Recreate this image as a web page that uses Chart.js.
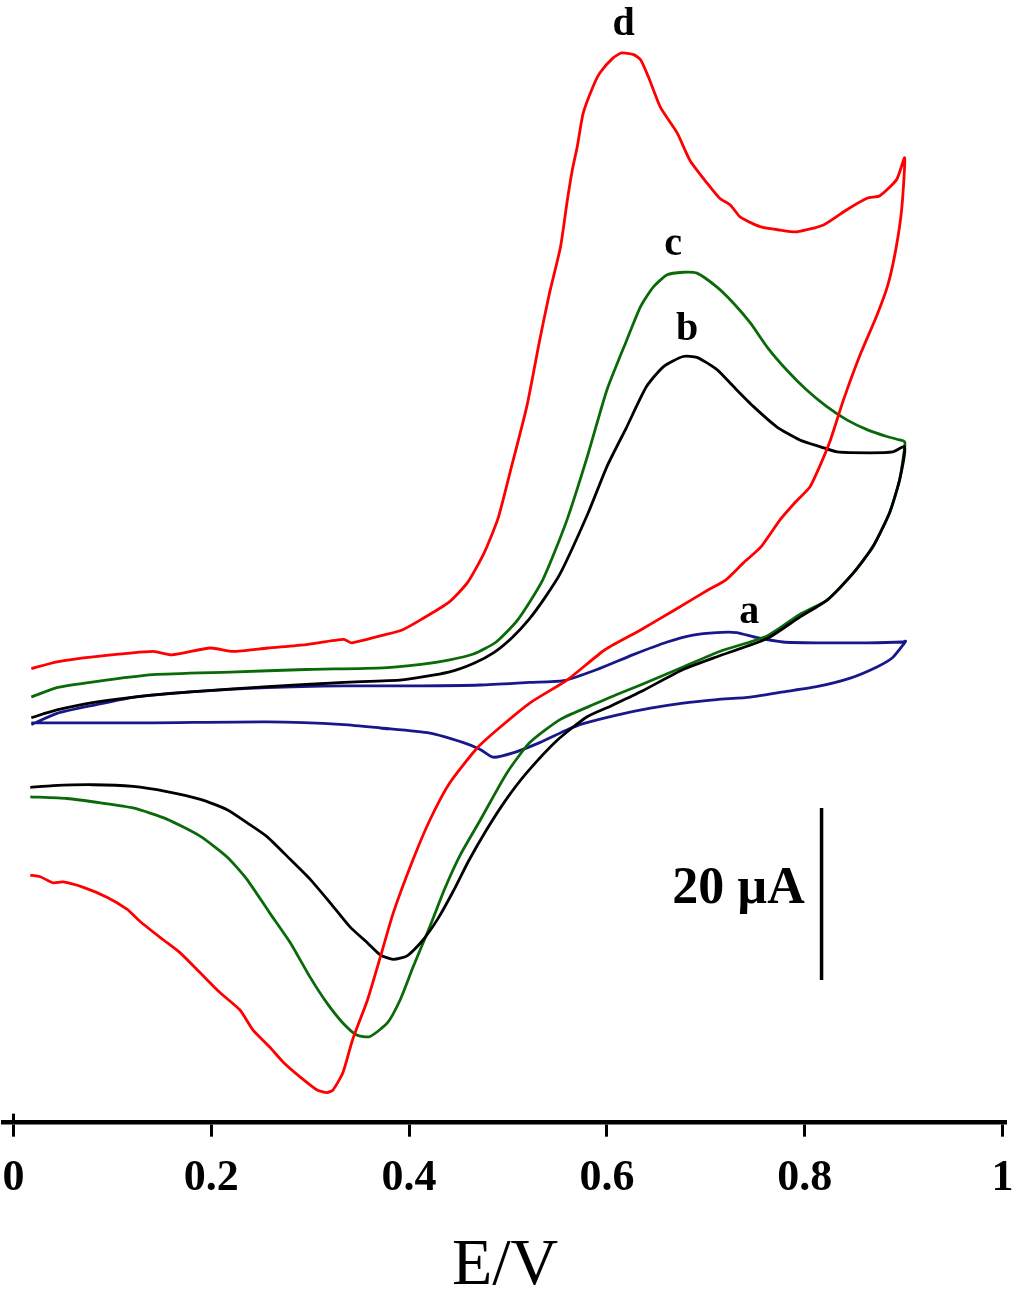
<!DOCTYPE html>
<html>
<head>
<meta charset="utf-8">
<title>Cyclic voltammograms a-d</title>
<script src="https://cdn.jsdelivr.net/npm/chart.js@4.4.1/dist/chart.umd.min.js"></script>
<style>
  html, body { margin: 0; padding: 0; background: #fff; }
  #wrap { width: 1015px; height: 1296px; }
</style>
</head>
<body>
<div id="wrap"><canvas id="cv" width="1015" height="1296"></canvas></div>
<script>
// potential (V) and current (uA), forward scan then reverse scan
var potA = [0.018, 0.044, 0.083, 0.122, 0.179, 0.257, 0.334, 0.412, 0.472, 0.522, 0.556, 0.590, 0.626, 0.661, 0.687, 0.711, 0.731, 0.752, 0.778, 0.812, 0.863, 0.899, 0.902,
            0.899, 0.889, 0.873, 0.846, 0.812, 0.778, 0.745, 0.711, 0.677, 0.644, 0.610, 0.576, 0.560, 0.532, 0.505, 0.485, 0.472, 0.455, 0.421, 0.371, 0.334, 0.257, 0.141, 0.018];
var curA = [-0.7, 0.6, 1.6, 2.5, 3.1, 3.6, 3.8, 3.8, 3.9, 4.2, 4.4, 5.7, 7.4, 8.9, 9.7, 10.0, 10.0, 9.4, 8.9, 8.8, 8.8, 8.9, 9.0,
            8.5, 7.1, 6.0, 4.7, 3.7, 3.1, 2.5, 2.2, 1.8, 1.2, 0.4, -0.6, -1.3, -2.8, -4.0, -4.5, -3.6, -2.8, -1.7, -1.1, -0.7, -0.4, -0.5, -0.5];

var potB = [0.018, 0.044, 0.083, 0.122, 0.179, 0.257, 0.334, 0.393, 0.440, 0.465, 0.486, 0.504, 0.521, 0.537, 0.553, 0.581, 0.600, 0.620, 0.640, 0.657, 0.677, 0.691, 0.711, 0.728, 0.748, 0.772, 0.795, 0.816, 0.833, 0.866, 0.889, 0.901,
            0.896, 0.886, 0.869, 0.849, 0.823, 0.795, 0.762, 0.714, 0.677, 0.634, 0.603, 0.580, 0.550, 0.519, 0.497, 0.478, 0.460, 0.445, 0.429, 0.413, 0.398, 0.384, 0.371, 0.358, 0.340, 0.320, 0.300, 0.280, 0.256, 0.236, 0.216, 0.189, 0.155, 0.121, 0.080, 0.040, 0.017];
var curB = [0.1, 1.0, 1.9, 2.5, 3.1, 3.7, 4.2, 4.5, 5.4, 6.4, 7.7, 9.4, 11.5, 14.0, 16.9, 23.9, 29.3, 33.9, 38.6, 40.9, 42.1, 42.0, 40.6, 38.6, 36.3, 33.9, 32.4, 31.6, 31.0, 30.9, 31.0, 31.6,
            27.8, 24.0, 20.0, 16.9, 13.8, 11.8, 9.3, 7.3, 5.7, 3.1, 1.4, 0.2, -2.5, -6.3, -9.6, -13.0, -16.6, -20.0, -23.3, -25.9, -27.6, -28.0, -27.5, -26.1, -24.2, -21.4, -18.7, -16.4, -13.7, -12.1, -10.6, -9.4, -8.5, -7.9, -7.7, -7.8, -8.0];

var potC = [0.018, 0.044, 0.083, 0.141, 0.219, 0.296, 0.374, 0.412, 0.440, 0.465, 0.488, 0.510, 0.535, 0.559, 0.580, 0.600, 0.620, 0.634, 0.647, 0.661, 0.677, 0.691, 0.711, 0.728, 0.745, 0.762, 0.782, 0.802, 0.822, 0.843, 0.863, 0.883, 0.896, 0.901,
            0.901, 0.896, 0.886, 0.869, 0.849, 0.823, 0.795, 0.762, 0.714, 0.677, 0.634, 0.610, 0.590, 0.553, 0.522, 0.499, 0.472, 0.452, 0.436, 0.421, 0.404, 0.391, 0.378, 0.360, 0.347, 0.333, 0.317, 0.300, 0.280, 0.259, 0.236, 0.216, 0.189, 0.155, 0.121, 0.088, 0.054, 0.017];
var curC = [2.5, 3.6, 4.3, 5.1, 5.4, 5.7, 5.9, 6.3, 6.8, 7.5, 8.9, 11.5, 16.1, 22.9, 30.4, 38.2, 44.0, 47.9, 50.2, 51.6, 51.9, 51.8, 50.2, 48.3, 46.0, 43.2, 40.5, 38.2, 36.3, 34.7, 33.6, 32.8, 32.4, 32.2,
            31.5, 27.8, 24.0, 20.0, 16.9, 13.8, 12.1, 9.6, 7.8, 6.0, 3.9, 2.8, 1.8, -0.1, -2.8, -6.3, -11.8, -15.8, -19.8, -24.2, -28.9, -32.7, -35.4, -37.0, -36.8, -35.4, -33.1, -30.1, -26.1, -22.6, -18.7, -16.1, -13.7, -11.7, -10.4, -9.8, -9.3, -9.1];

var potD = [0.018, 0.044, 0.083, 0.141, 0.160, 0.199, 0.222, 0.257, 0.296, 0.334, 0.342, 0.374, 0.393, 0.412, 0.440, 0.459, 0.476, 0.490, 0.502, 0.519, 0.532, 0.542, 0.553, 0.560, 0.565, 0.570, 0.576, 0.586, 0.593, 0.606, 0.615, 0.627, 0.634, 0.642, 0.654, 0.671, 0.684, 0.701, 0.714, 0.725, 0.735, 0.755, 0.775, 0.792, 0.819, 0.843, 0.863, 0.876, 0.893, 0.901,
            0.898, 0.892, 0.884, 0.873, 0.856, 0.839, 0.826, 0.815, 0.805, 0.790, 0.775, 0.756, 0.738, 0.720, 0.703, 0.668, 0.634, 0.598, 0.560, 0.522, 0.489, 0.469, 0.441, 0.421, 0.404, 0.384, 0.371, 0.358, 0.343, 0.333, 0.323, 0.317, 0.307, 0.290, 0.273, 0.259, 0.242, 0.229, 0.209, 0.189, 0.168, 0.151, 0.128, 0.115, 0.095, 0.070, 0.050, 0.040, 0.027, 0.017];
var curD = [5.8, 6.6, 7.2, 7.8, 7.4, 8.2, 7.8, 8.2, 8.6, 9.2, 8.8, 9.7, 10.3, 11.5, 13.5, 15.8, 19.3, 23.3, 28.6, 36.3, 44.0, 49.5, 54.8, 60.3, 63.8, 66.5, 70.4, 73.5, 75.1, 76.8, 77.4, 77.2, 76.6, 74.6, 71.1, 68.1, 64.9, 62.3, 60.5, 59.7, 58.3, 57.2, 56.8, 56.6, 57.4, 59.2, 60.5, 60.8, 62.7, 65.2,
            59.2, 54.5, 50.4, 46.9, 42.3, 37.0, 32.4, 29.3, 26.9, 25.1, 23.1, 20.0, 18.1, 16.1, 15.0, 12.6, 10.3, 8.0, 4.5, 1.8, -1.3, -3.4, -7.5, -11.8, -16.4, -22.6, -27.7, -32.7, -37.3, -41.2, -43.2, -43.5, -43.2, -41.7, -40.0, -38.2, -36.2, -33.9, -31.9, -29.6, -27.2, -25.7, -23.6, -22.2, -20.8, -19.6, -19.0, -19.1, -18.4, -18.2];

var tickValues = [0, 0.2, 0.4, 0.6, 0.8, 1];

// curve letters and the 20 uA scale bar, placed in data units
var curveLabels = ['a', 'b', 'c', 'd'];
var labelPot = [0.744, 0.681, 0.667, 0.617];
var labelCur = [11.1, 44.0, 53.9, 79.5];
var barPot = 0.817, barTop = -10.4, barBottom = -30.4;
var barText = '20 \u00b5A', barTextPot = 0.800, barTextCur = -21.4;

function toPoints(p, c) {
    var out = [];
    var n = Math.min(p.length, c.length);
    for (var i = 0; i < n; i++) out.push({ x: p[i], y: c[i] });
    return out;
}

function curve(label, p, c, colour, order) {
    return {
        label: label,
        data: toPoints(p, c),
        showLine: true,
        borderColor: colour,
        borderWidth: 2.8,
        pointRadius: 0,
        fill: false,
        tension: 0.2,
        order: order
    };
}

var decorations = {
    id: 'decorations',
    afterDatasetsDraw: function (chart) {
        var ctx = chart.ctx;
        var xs = chart.scales.x, ys = chart.scales.y;
        ctx.save();
        ctx.fillStyle = '#000';
        ctx.strokeStyle = '#000';

        ctx.font = 'bold 40px "Liberation Serif"';
        ctx.textAlign = 'center';
        ctx.textBaseline = 'alphabetic';
        curveLabels.forEach(function (t, i) {
            ctx.fillText(t, xs.getPixelForValue(labelPot[i]), ys.getPixelForValue(labelCur[i]));
        });

        var bx = xs.getPixelForValue(barPot);
        ctx.lineWidth = 3.5;
        ctx.beginPath();
        ctx.moveTo(bx, ys.getPixelForValue(barTop));
        ctx.lineTo(bx, ys.getPixelForValue(barBottom));
        ctx.stroke();

        ctx.font = 'bold 52px "Liberation Serif"';
        ctx.textAlign = 'right';
        ctx.fillText(barText, xs.getPixelForValue(barTextPot), ys.getPixelForValue(barTextCur));

        // short stub above the axis at E = 0
        var x0 = xs.getPixelForValue(0);
        ctx.lineWidth = 3;
        ctx.beginPath();
        ctx.moveTo(x0, chart.chartArea.bottom);
        ctx.lineTo(x0, chart.chartArea.bottom - 9);
        ctx.stroke();
        ctx.restore();
    }
};

var ctx = document.getElementById('cv');
new Chart(ctx, {
    type: 'scatter',
    data: {
        datasets: [
            curve('d', potD, curD, '#ff0000', 0),
            curve('b', potB, curB, '#000000', 1),
            curve('c', potC, curC, '#0a6a0a', 2),
            curve('a', potA, curA, '#18188a', 3)
        ]
    },
    options: {
        responsive: false,
        animation: false,
        devicePixelRatio: 1,
        layout: { padding: { top: 22, left: 3.6, right: 8.5, bottom: 0 } },
        plugins: {
            legend: { display: false },
            tooltip: { enabled: false }
        },
        scales: {
            x: {
                type: 'linear',
                min: -0.01,
                max: 1.004,
                afterBuildTicks: function (axis) {
                    axis.ticks = tickValues.map(function (v) { return { value: v }; });
                },
                border: { display: true, color: '#000', width: 4.5 },
                grid: { display: true, drawOnChartArea: false, drawTicks: true, tickLength: 14, tickWidth: 3, tickColor: '#000' },
                ticks: {
                    color: '#000',
                    padding: 0,
                    maxRotation: 0,
                    autoSkip: false,
                    font: { family: 'Liberation Serif', size: 44, weight: 'bold', lineHeight: 1.93 },
                    callback: function (v) { return String(v); }
                },
                title: {
                    display: true,
                    text: 'E/V',
                    color: '#000',
                    font: { family: 'Liberation Serif', size: 66, weight: 'normal', lineHeight: 0.9 },
                    padding: { top: 15, bottom: 0 }
                }
            },
            y: {
                display: false,
                min: -47,
                max: 81
            }
        }
    },
    plugins: [decorations]
});
</script>
</body>
</html>
